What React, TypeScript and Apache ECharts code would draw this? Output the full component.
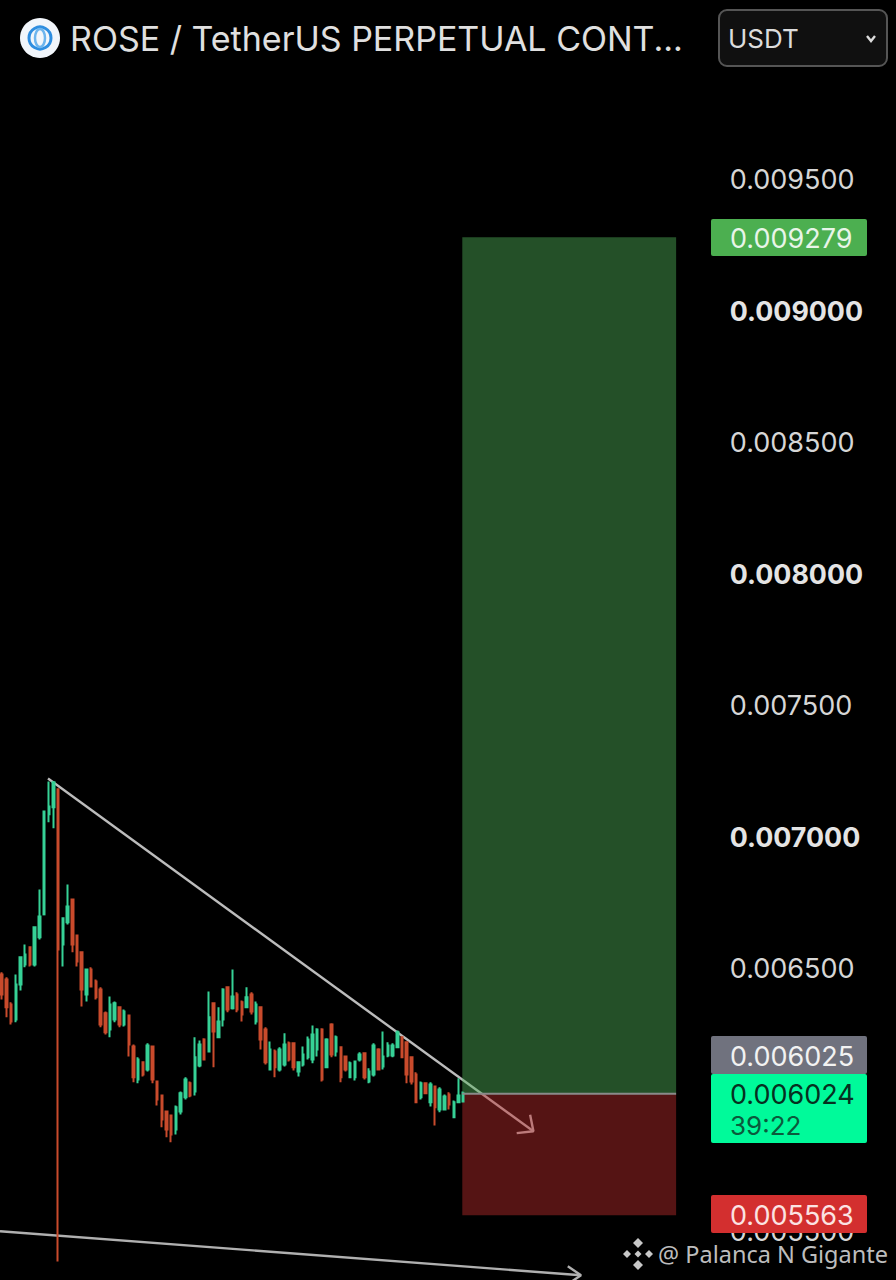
import React, { useEffect, useRef } from "react";
import * as echarts from "echarts";

// Prices in millionths of a USDT, one entry per candle
const opens = [6478,6459,6364,6307,6440,6516,6581,6516,6619,6706,7086,7113,7181,6592,6676,6763,6626,6562,6402,6497,6451,6421,6330,6269,6307,6353,6288,6322,6204,6079,6144,6117,6204,6071,6018,5957,5942,5889,5957,6011,6064,6033,6132,6231,6185,6368,6239,6307,6429,6349,6402,6372,6353,6402,6299,6353,6269,6117,6185,6117,6136,6216,6216,6109,6136,6163,6155,6193,6269,6125,6288,6185,6201,6166,6087,6087,6155,6178,6071,6098,6193,6128,6170,6170,6201,6239,6220,6163,6098,6011,6064,5992,6052,5965,5965,6022,5935,5992,5995];
const closes = [6402,6353,6299,6440,6543,6554,6516,6657,6698,7097,7116,7208,6573,6691,6736,6592,6527,6421,6497,6432,6391,6288,6258,6364,6368,6288,6337,6212,6087,6155,6098,6208,6079,6003,5927,5889,5870,5973,6026,6079,6018,6163,6212,6155,6315,6261,6299,6421,6345,6394,6345,6326,6391,6337,6364,6231,6144,6193,6125,6193,6212,6155,6125,6144,6174,6231,6250,6269,6079,6231,6174,6239,6087,6117,6140,6147,6174,6087,6109,6208,6117,6166,6208,6208,6258,6163,6098,6071,5992,6064,6026,6060,5973,6041,6014,5984,5992,6018,6026];
const lows = [6383,6315,6288,6296,6417,6505,6508,6508,6611,6706,7056,7033,5387,6508,6668,6562,6508,6356,6375,6429,6383,6277,6250,6239,6296,6277,6280,6166,6068,6064,6090,6109,6064,5980,5897,5859,5840,5870,5946,6003,6011,6018,6125,6151,6182,6125,6235,6280,6334,6345,6334,6299,6349,6326,6288,6193,6136,6113,6087,6109,6128,6147,6113,6090,6128,6155,6140,6166,6071,6121,6163,6166,6068,6109,6083,6075,6147,6079,6064,6090,6117,6117,6163,6163,6197,6159,6064,6060,5988,6003,6026,5976,5904,5954,5961,5965,5931,5992,5992];
const highs = [6486,6467,6372,6478,6546,6592,6584,6660,6801,7097,7211,7211,7181,6695,6820,6763,6630,6562,6497,6505,6459,6429,6337,6394,6375,6356,6345,6326,6212,6163,6147,6216,6208,6075,6022,5961,5946,5980,6033,6087,6071,6239,6227,6235,6413,6372,6353,6425,6432,6497,6410,6379,6429,6410,6375,6356,6277,6223,6193,6201,6254,6223,6220,6147,6204,6242,6284,6273,6273,6235,6292,6246,6201,6170,6147,6147,6182,6182,6121,6216,6197,6261,6220,6216,6265,6242,6223,6166,6106,6071,6068,6068,6056,6049,6022,6030,5999,6083,6033];

const tickValues = [0.0095, 0.009, 0.0085, 0.008, 0.0075, 0.007, 0.0065, 0.0055];
const boldTicks = ["0.009000", "0.008000", "0.007000"];
const priceMin = 0.0053169;
const priceMax = 0.0101801;

const target = 0.009279;
const entry = 0.006025;
const stop = 0.005563;
const last = "0.006024";
const countdown = "39:22";

// [slot, price]: x in candle slots on the hidden value axis
const trendLine = [[10.34, 0.007222], [113.4, 0.005882]];
const trendHead = [[112.7, 0.005945], [113.4, 0.005882], [109.85, 0.005875]];
const lowerLine = [[0.15, 0.005502], [123.5, 0.005335]];
const lowerHead = [[120.7, 0.005369], [123.5, 0.005335], [120.7, 0.005301]];
const boxFrom = 98.3;
const boxTo = 143.7;
const slotCount = 150;

const categories = Array.from({ length: slotCount }, (_, i) => String(i));
const candles = opens.map((o, i) => [o / 1e6, closes[i] / 1e6, lows[i] / 1e6, highs[i] / 1e6]);

const FONT = "Inter, Roboto, sans-serif";

function tag(y: number, h: number, fill: string) {
  return { type: "rect", z: 20, shape: { x: 711, y, width: 156, height: h, r: 2 }, style: { fill } };
}
function label(text: string, x: number, y: number, fontSize: number, fill: string, extra: any = {}) {
  return {
    type: "text", z: 21, x, y,
    style: { text, fontSize, fill, fontFamily: FONT, verticalAlign: "middle", ...extra },
  };
}
function lineSeries(data: number[][], color: string) {
  return {
    type: "line", xAxisIndex: 1, yAxisIndex: 0, data, z: 0, symbol: "none", silent: true,
    lineStyle: { color, width: 2.4 },
  };
}
function diamond(cx: number, cy: number, r: number) {
  return {
    type: "polygon", z: 21,
    shape: { points: [[cx, cy - r], [cx + r, cy], [cx, cy + r], [cx - r, cy]] },
    style: { fill: "#c8c8c8" },
  };
}

export default function App() {
  const ref = useRef<HTMLDivElement>(null);
  useEffect(() => {
    const chart = echarts.init(ref.current!, null, { renderer: "svg" });
    chart.setOption({
      animation: false,
      backgroundColor: "#000000",
      grid: { left: -0.7, width: slotCount * 4.71, top: 0, height: 1280, outerBoundsMode: "none" },
      xAxis: [
        { type: "category", data: categories, show: false },
        { type: "value", min: 0, max: slotCount, show: false },
      ],
      yAxis: {
        type: "value", position: "right", min: priceMin, max: priceMax, scale: true,
        axisLine: { show: false }, axisTick: { show: false }, splitLine: { show: false },
        axisLabel: {
          customValues: tickValues,
          margin: 24,
          align: "left",
          fontFamily: FONT,
          fontSize: 27,
          color: "#d6d6d6",
          formatter: (v: number) => {
            const s = v.toFixed(6);
            return boldTicks.includes(s) ? `{b|${s}}` : s;
          },
          rich: { b: { fontFamily: FONT, fontSize: 26.8, fontWeight: 700, color: "#e4e4e4" } },
        },
      },
      series: [
        lineSeries(trendLine, "#bcbcbc"),
        lineSeries(trendHead, "#bcbcbc"),
        lineSeries(lowerLine, "#b0b0b0"),
        lineSeries(lowerHead, "#b0b0b0"),
        {
          type: "line", xAxisIndex: 1, yAxisIndex: 0, z: 3, symbol: "none", silent: true,
          data: [[boxFrom, entry], [boxTo, entry]],
          lineStyle: { color: "#8a8a8a", width: 2 },
          markArea: {
            silent: true, z: 1,
            data: [
              [
                { xAxis: boxFrom, yAxis: target, itemStyle: { color: "rgba(80,178,89,0.45)" } },
                { xAxis: boxTo, yAxis: entry },
              ],
              [
                { xAxis: boxFrom, yAxis: entry, itemStyle: { color: "rgba(189,44,44,0.45)" } },
                { xAxis: boxTo, yAxis: stop },
              ],
            ],
          },
        },
        {
          type: "candlestick", data: candles, z: 2, barWidth: 2, silent: true,
          itemStyle: {
            color: "#36d196", color0: "#c94b2c", borderColor: "#36d196", borderColor0: "#c94b2c", borderWidth: 2,
          },
        },
      ],
      graphic: [
        { type: "circle", z: 21, shape: { cx: 40, cy: 38, r: 20 }, style: { fill: "#f2f6fb" } },
        { type: "circle", z: 22, shape: { cx: 40, cy: 38, r: 11 }, style: { fill: "none", stroke: "#2f8ee0", lineWidth: 3 } },
        { type: "ellipse", z: 22, shape: { cx: 40, cy: 38, rx: 5, ry: 9 }, style: { fill: "none", stroke: "#6db5ee", lineWidth: 2.5 } },
        label("ROSE / TetherUS PERPETUAL CONT...", 70, 38, 34, "#e0e0e0"),
        { type: "rect", z: 20, shape: { x: 719, y: 10, width: 168, height: 56, r: 8 }, style: { fill: "#101010", stroke: "#555555", lineWidth: 2 } },
        label("USDT", 728, 38, 26, "#dcdcdc"),
        { type: "polyline", z: 21, shape: { points: [[867, 36], [871, 41], [875, 36]] }, style: { fill: "none", stroke: "#dcdcdc", lineWidth: 2.4 } },
        tag(219, 37, "#4caf50"),
        label(target.toFixed(6), 730, 238, 27, "#e8f5e9"),
        tag(1036, 38, "#70727e"),
        label(entry.toFixed(6), 730, 1056, 27, "#f2f2f2"),
        tag(1074, 69, "#00fa9a"),
        label(last, 730, 1094, 27, "#06301f"),
        label(countdown, 730, 1125, 26, "#0b5a3c"),
        tag(1195, 38, "#d32f2f"),
        label(stop.toFixed(6), 730, 1215, 27, "#fbe3e3"),
        diamond(638, 1243, 5), diamond(638, 1265, 5), diamond(627, 1254, 4), diamond(649, 1254, 4), diamond(638, 1254, 3.5),
        label("@ Palanca N Gigante", 658, 1254, 23.5, "#bdbdbd", { fontFamily: "'Noto Sans', sans-serif" }),
      ],
    });
    return () => chart.dispose();
  }, []);
  return (
    <div
      ref={ref}
      style={{ position: "absolute", left: 0, top: 0, width: 896, height: 1280, background: "#000", overflow: "hidden" }}
    />
  );
}
